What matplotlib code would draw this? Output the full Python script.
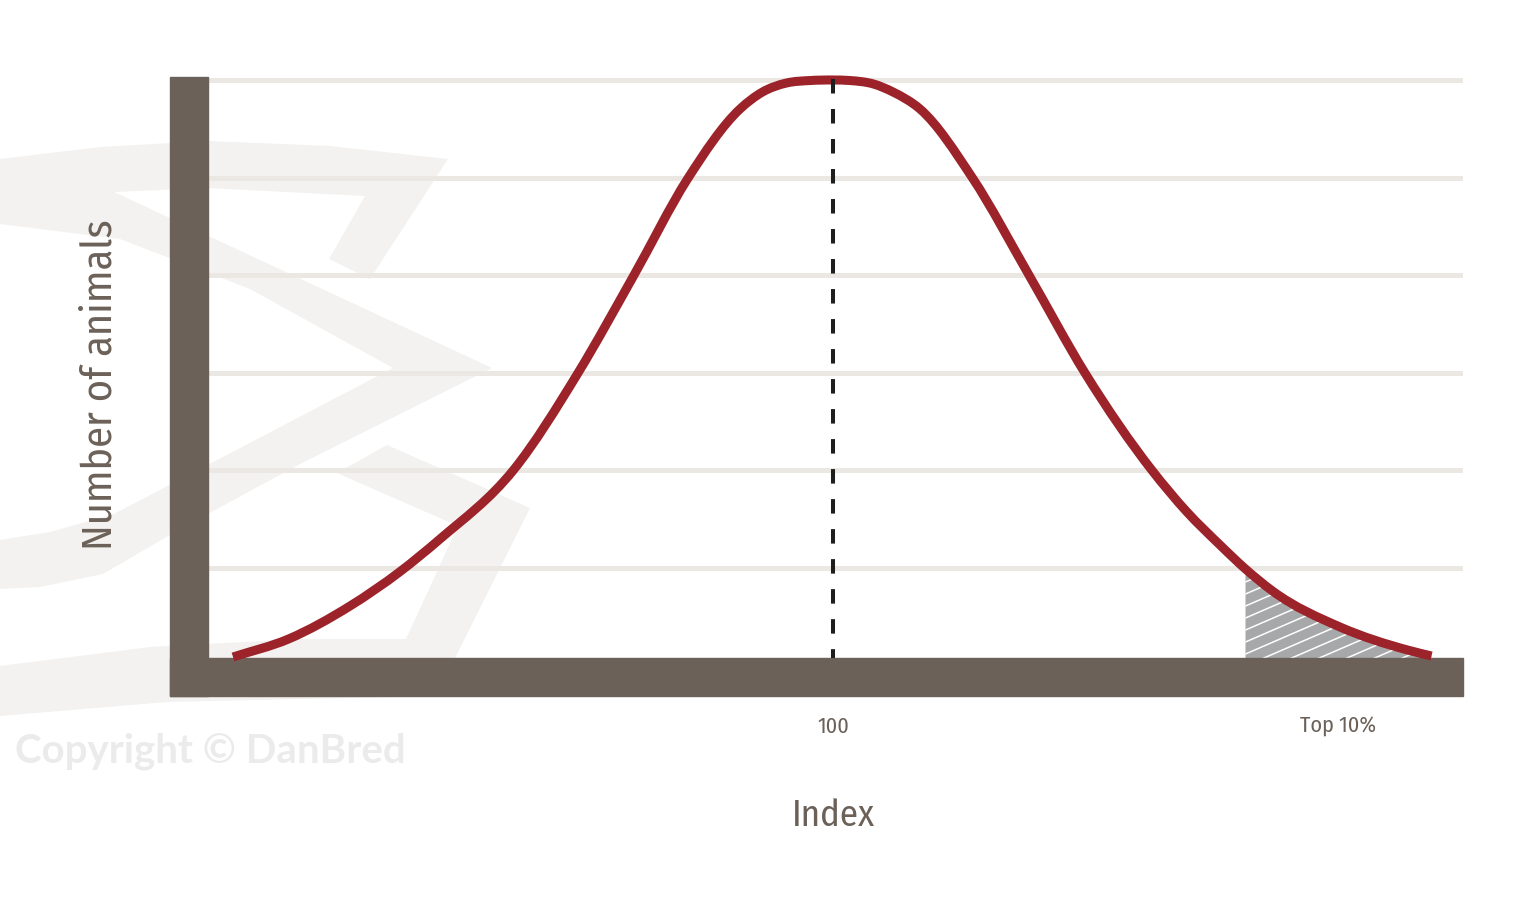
import matplotlib
matplotlib.use("Agg")
import matplotlib.pyplot as plt
from matplotlib.patches import Rectangle, Polygon, PathPatch
from matplotlib.path import Path
import numpy as np

# values (index on x, relative number of animals on y)
index_x = [60.0, 63.7, 67.8, 71.1, 73.8, 78.7, 83.0, 86.7, 90.3, 93.8,
           95.3, 96.9, 98.5, 100.0, 101.1, 102.7, 104.0, 105.8, 109.3, 113.1,
           116.8, 121.3, 123.6, 125.8, 127.5, 129.3, 133.8, 138.3, 139.9]
animals = [0.1, 1.9, 5.2, 8.6, 11.9, 18.8, 28.5, 38.2, 47.9, 54.9,
           56.6, 57.5, 57.75, 57.8, 57.75, 57.4, 56.6, 54.9, 48.0, 38.2,
           28.5, 18.7, 14.6, 11.3, 8.9, 6.7, 3.1, 0.8, 0.2]
grid_levels = [9.0, 18.8, 28.5, 38.3, 48.0, 57.8]
mean_index = 100
top10_start = 127.5
tick_pos = [100, 133.7]
tick_labels = ["100", "Top 10%"]

BROWN = "#6b6158"
RED = "#9b2329"
W, H = 1536, 903

fig = plt.figure(figsize=(W / 100, H / 100), dpi=100)

# faint logo watermark (figure pixels)
wm_shapes = [
    [(0, 160), (100, 148), (207, 142), (330, 147), (448, 160), (370, 280), (329, 260),
     (365, 197), (207, 189), (114, 193), (492, 369), (300, 465), (180, 530), (103, 575),
     (40, 588), (0, 590), (0, 541), (50, 533), (114, 515), (393, 369), (250, 290),
     (120, 240), (0, 225)],
    [(337, 474), (387, 446), (530, 509), (436, 697), (300, 700), (167, 703), (0, 717),
     (0, 667), (150, 648), (300, 640), (406, 640), (458, 527)],
]
for pts in wm_shapes:
    fpts = [(px / W, 1 - py / H) for px, py in pts]
    fig.add_artist(Polygon(fpts, closed=True, transform=fig.transFigure,
                           facecolor="#f3f2f0", edgecolor="none", zorder=-1))

fig.text(15 / W, 1 - 763 / H, "Copyright \u00a9 DanBred", family=["Lato", "DejaVu Sans"],
         weight="bold", fontsize=29, color="#ebebeb", ha="left", va="baseline")

ax = fig.add_axes([208 / W, 1 - 659 / H, (1463 - 208) / W, (659 - 78) / H])
ax.set_facecolor("none")
ax.set_xlim(58.333, 142.0)
ax.set_ylim(0, 58.1)
for s in ax.spines.values():
    s.set_visible(False)
ax.set_xticks([])
ax.set_yticks([])

for g in grid_levels:
    ax.axhline(g, color="#ebe7e2", lw=3.6, zorder=1)

# thick axis bars
bw = 38 / (1463 - 208)
bh = 38 / (659 - 78)
ax.add_patch(Rectangle((-bw, -bh), bw, 1 + bh, transform=ax.transAxes,
                       color=BROWN, clip_on=False, zorder=3))
ax.add_patch(Rectangle((-bw, -bh), 1 + bw, bh, transform=ax.transAxes,
                       color=BROWN, clip_on=False, zorder=3))

x = np.array(index_x)
y = np.array(animals)

# smooth stroke through the read points: cubic Hermite segments as Bezier curves
h = np.diff(x)
d = np.diff(y) / h
slope = np.empty_like(y)
slope[1:-1] = (h[:-1] * d[1:] + h[1:] * d[:-1]) / (h[:-1] + h[1:])
slope[0], slope[-1] = d[0], d[-1]
segs = []
for i in range(len(x) - 1):
    segs.append([(x[i] + h[i] / 3, y[i] + slope[i] * h[i] / 3),
                 (x[i + 1] - h[i] / 3, y[i + 1] - slope[i + 1] * h[i] / 3),
                 (x[i + 1], y[i + 1])])

verts = [(x[0], y[0])]
codes = [Path.MOVETO]
for s in segs:
    verts += s
    codes += [Path.CURVE4] * 3
ax.add_patch(PathPatch(Path(verts, codes), fill=False, edgecolor=RED, lw=6.5,
                       capstyle="butt", joinstyle="round", zorder=5, clip_on=False))

# hatched top 10% area under the same curve
k = int(np.argmin(np.abs(x - top10_start)))
hv = [(x[k], y[k])]
hc = [Path.MOVETO]
for s in segs[k:]:
    hv += s
    hc += [Path.CURVE4] * 3
hv += [(x[-1], 0), (x[k], 0), (x[k], 0)]
hc += [Path.LINETO, Path.LINETO, Path.CLOSEPOLY]
hpath = Path(hv, hc)
ax.add_patch(PathPatch(hpath, facecolor="#a7a8aa", edgecolor="none", zorder=2))
for c in np.arange(-14, 12, 1.2):
    hx = np.array([top10_start - 1, x[-1] + 1])
    ln, = ax.plot(hx, 0.65 * (hx - top10_start) + c, color="white", lw=1.1, zorder=2.5)
    ln.set_clip_path(hpath, ax.transData)

ax.plot([mean_index, mean_index], [57.9, 0], color="#1e1e1e", lw=2.9,
        dashes=(3.6, 3.85), zorder=6, clip_on=False)

font = ["Fira Sans Condensed", "Liberation Sans Narrow", "DejaVu Sans"]
tr = ax.get_xaxis_transform()
for xp, lab in zip(tick_pos, tick_labels):
    ax.text(xp, -0.1274, lab, transform=tr, ha="center", va="baseline",
            fontsize=16, color=BROWN, family=font)
ax.text(mean_index, -0.2874, "Index", transform=tr, ha="center", va="baseline",
        fontsize=26.5, color=BROWN, family=font)

fig.text(112 / W, 1 - 385 / H, "Number of animals", rotation=90,
         rotation_mode="anchor", ha="center", va="baseline", fontsize=30.5,
         color=BROWN, family=font)

fig.savefig("out.png", dpi=100, facecolor="white")
